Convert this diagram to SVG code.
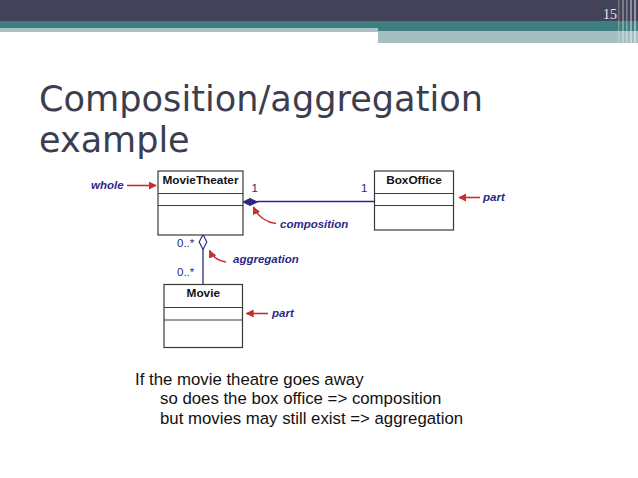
<svg xmlns="http://www.w3.org/2000/svg" width="638" height="478" viewBox="0 0 638 478">
<defs>
<style>
.box{fill:#fff;stroke:#3a3a3a;stroke-width:1.2}
.div{stroke:#3a3a3a;stroke-width:1.2}
.cls{font-family:"Liberation Sans",Arial,sans-serif;font-weight:bold;font-size:11.8px;fill:#111;text-anchor:middle}
.lbl{font-family:"Liberation Sans",Arial,sans-serif;font-style:italic;font-weight:bold;font-size:11.5px;fill:#2a2a86}
.mult{font-family:"Liberation Sans",Arial,sans-serif;font-size:11.5px;fill:#2a2a86}
.navy{stroke:#2a2a86;stroke-width:1.3;fill:none}
.red{stroke:#c8302f;stroke-width:1.6;fill:none}
.note{font-family:"Liberation Sans",Arial,sans-serif;font-size:16.8px;fill:#111}
</style>
<marker id="ra" viewBox="0 0 10 10" refX="9" refY="5" markerWidth="8" markerHeight="8" orient="auto" markerUnits="userSpaceOnUse">
<path d="M0,0 L10,5 L0,10 Z" fill="#c8302f"/>
</marker>
</defs>
<rect width="638" height="478" fill="#fff"/>
<!-- header -->
<rect x="0" y="0" width="638" height="21" fill="#424358"/>
<rect x="0" y="21" width="638" height="7" fill="#3f7e80"/>
<rect x="0" y="28" width="378" height="4" fill="#a9c1c3"/>
<rect x="378" y="28" width="260" height="3" fill="#3f7e80"/>
<rect x="378" y="31" width="260" height="12" fill="#a3bfc1"/>
<g fill="#fff">
<rect x="618" y="0" width="1.5" height="43" opacity="0.25"/>
<rect x="622" y="0" width="2" height="43" opacity="0.3"/>
<rect x="626" y="0" width="1.5" height="43" opacity="0.35"/>
<rect x="630" y="0" width="2" height="43" opacity="0.4"/>
<rect x="634" y="0" width="2" height="43" opacity="0.45"/>
</g>
<text x="617" y="19" font-family="Liberation Serif,serif" font-size="14" fill="#e8e8e8" text-anchor="end">15</text>
<!-- title -->
<text font-family="DejaVu Sans,Verdana,sans-serif" font-size="35" fill="#3c3e50">
<tspan x="39" y="111" textLength="444" lengthAdjust="spacingAndGlyphs">Composition/aggregation</tspan>
<tspan x="39" y="152">example</tspan>
</text>
<!-- connectors -->
<g id="connectors">
<line class="navy" x1="257" y1="201.5" x2="374.5" y2="201.5"/>
<polygon points="243,202 250,198.5 257.5,202 250,205.5" fill="#2a2a86" stroke="#2a2a86" stroke-width="1"/>
<line class="navy" x1="203" y1="249.5" x2="203" y2="284"/>
<polygon points="203,234.5 206.8,242 203,249.5 199.2,242" fill="#fff" stroke="#2a2a86" stroke-width="1.2"/>
<text class="mult" x="251.5" y="192">1</text>
<text class="mult" x="361" y="192">1</text>
<text class="mult" x="177" y="247">0..*</text>
<text class="mult" x="177" y="276">0..*</text>
<!-- annotation arrows -->
<line class="red" x1="127" y1="185.5" x2="156" y2="185.5" marker-end="url(#ra)"/>
<line class="red" x1="480" y1="197.5" x2="459" y2="197.5" marker-end="url(#ra)"/>
<line class="red" x1="268" y1="313.5" x2="246.5" y2="313.5" marker-end="url(#ra)"/>
<path class="red" d="M276,223.5 Q260,221 253.5,207" marker-end="url(#ra)"/>
<path class="red" d="M226,262 Q214,260 209.5,250.5" marker-end="url(#ra)"/>
<text class="lbl" x="91" y="189">whole</text>
<text class="lbl" x="483" y="201">part</text>
<text class="lbl" x="272" y="317">part</text>
<text class="lbl" x="280" y="227.5">composition</text>
<text class="lbl" x="233" y="263">aggregation</text>
</g>
<!-- nodes -->
<g id="MovieTheater">
<rect class="box" x="158" y="171" width="85" height="64"/>
<line class="div" x1="158" y1="193.5" x2="243" y2="193.5"/>
<line class="div" x1="158" y1="205.5" x2="243" y2="205.5"/>
<text class="cls" x="200.5" y="184">MovieTheater</text>
</g>
<g id="BoxOffice">
<rect class="box" x="374.5" y="171" width="79" height="59"/>
<line class="div" x1="374.5" y1="193.5" x2="453.5" y2="193.5"/>
<line class="div" x1="374.5" y1="205.5" x2="453.5" y2="205.5"/>
<text class="cls" x="414" y="184">BoxOffice</text>
</g>
<g id="Movie">
<rect class="box" x="164" y="284.5" width="78.5" height="63"/>
<line class="div" x1="164" y1="307.5" x2="242.5" y2="307.5"/>
<line class="div" x1="164" y1="320" x2="242.5" y2="320"/>
<text class="cls" x="203.3" y="297">Movie</text>
</g>
<!-- note -->
<text class="note" x="135" y="385">If the movie theatre goes away</text>
<text class="note" x="160" y="404">so does the box office =&gt; composition</text>
<text class="note" x="160" y="424">but movies may still exist =&gt; aggregation</text>
</svg>
